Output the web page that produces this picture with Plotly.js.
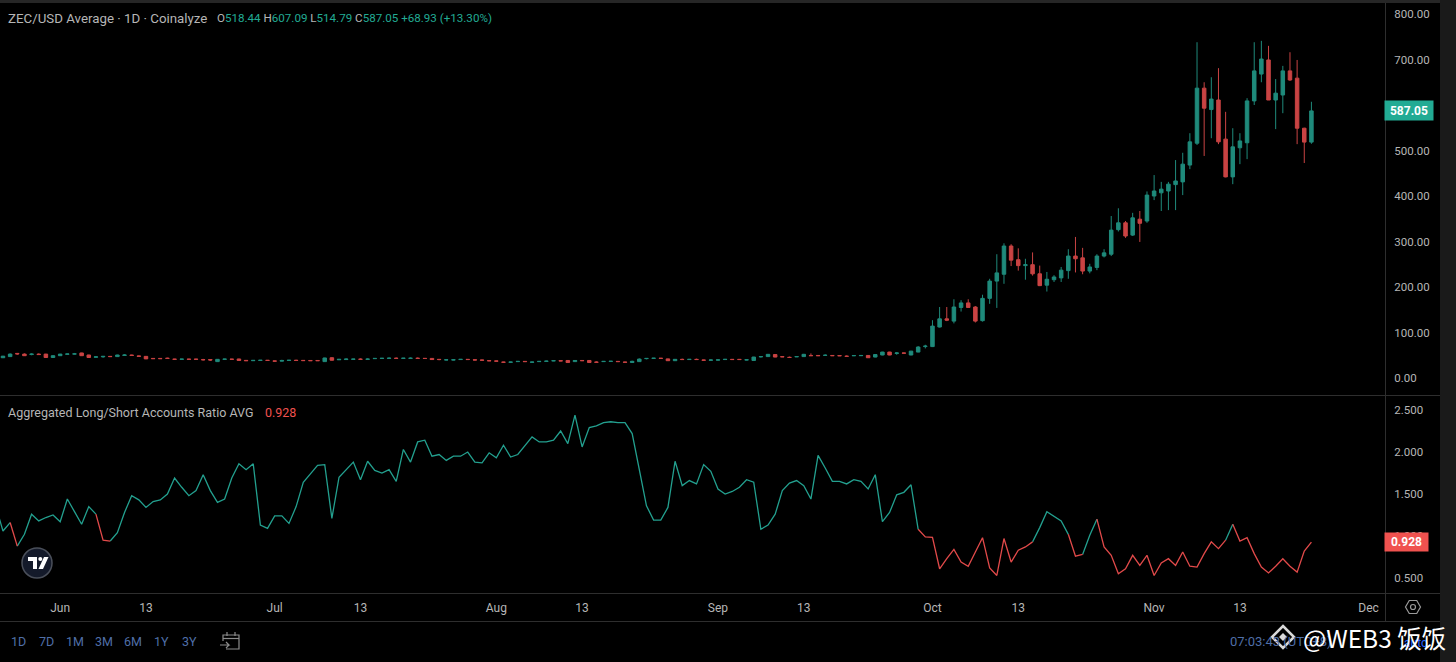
<!DOCTYPE html>
<html><head><meta charset="utf-8">
<script src="https://cdn.plot.ly/plotly-3.0.1.min.js"></script>
<style>html,body{margin:0;padding:0;background:#000;overflow:hidden}#chart{width:1456px;height:662px}</style>
</head><body><div id="chart"></div>
<script>
// ---------- DATA ----------
const firstCandleDate = '2025-05-24';   // daily candles, consecutive days
const firstRatioDate  = '2025-05-23';   // ratio series starts one day earlier (enters from left edge)

const opens = [
 44.5,47,54,52.5,51.5,52.5,52.5,45,49,52.3,
 52.5,55,50.5,45.5,46.5,47.5,47,49.5,50.5,48.5,
 47.5,43,43,43.5,41.5,41,41.5,41.5,40.5,40.5,
 36,41,41.5,41.8,38.7,38,38.5,39,37.5,37,
 38.5,39,38.7,38.5,38.5,36,44.5,40,40.5,41,
 41.5,41,42.5,42.8,43,43.5,43,43,43.5,43.2,
 43,41,39.5,39.5,40.5,41,40,39.5,38.3,37.5,
 35,34.5,36,36.5,34.5,36,36.5,37.5,38,38.5,
 36,38.5,38.5,35,36,36.3,36.5,35,34,36,
 42.5,43,43.5,42,38,41,40.5,41,39.5,39,
 39.3,40.5,41,41,39.5,38.5,46.5,47,51.5,47,
 45.5,46.5,47,49.5,49.5,49.5,49.5,49.3,48,48.8,
 49,49.5,46,50.5,57,54,55,50.5,57,69,
 69,112,130,125,155,165,156,126,175,213,
 228,290,260,247,249,229,204,216,220,236,
 268,264,235,243,268,272,326,341,314,349,
 345,400,407,411,425,431,468,516,637,590,
 611,525,442,506,517,609,668,699,611,622,
 675,659,549,518.44];
const highs = [
 48.5,54,55,54,54,54,53,50,53,53.2,
 55,55.5,51,48,48,48,51,52,51,49.5,
 48,43.5,43.5,44.5,42,42,42,42,42,41,
 41.5,42,42,42.3,39.2,39.2,39.5,39.5,38,40,
 39.5,40,39.2,39,39,44.5,45.5,41.5,43,42,
 43,43,43.5,43.8,45,45,44,45,45,43.7,
 43.5,41.5,40.5,41,41.5,41.5,41,40,39.5,38,
 35.5,35.5,37,37,35.5,37,38,38.5,38.5,39,
 39,39,39,36.5,37,37.3,37,35.5,38,43,
 43.5,44,44,42.5,41.5,42.5,41.5,42.5,40,41,
 40.3,41.5,41.5,41.5,41.5,46.5,47.5,52.5,52,47.5,
 47,47.5,53,54,50,52,50,49.8,49.5,49.8,
 50,50,52,57.5,57.5,57,55.5,59.5,70,73,
 127,156,156,173,171,173,158,183,218,272,
 296,294,285,262,276,247,233,226,244,283,
 310,286,251,272,283,356,373,345,363,367,
 410,446,431,431,479,495,538,738,650,661,
 681,585,549,538,615,738,741,730,657,686,
 716,699,550,607.09];
const lows = [
 44,46.5,51,48.5,50,51,44.5,44.5,48.5,51.8,
 52,48.5,44.5,45,44.5,46.5,46.5,49,49,47,
 41.5,42,42,42.5,40.5,40.5,40.5,40.5,38.5,37.5,
 35.5,40.5,40.5,38,37.5,37.5,38,38,36.5,36.5,
 38,38,37.7,37.5,37.5,35.5,38.5,39.5,40,40.5,
 40.5,40.5,42,42.3,42.5,42.5,42.5,42.5,42.5,42.3,
 40,39,39,39,40,40,39,38.5,37.5,36.5,
 34,34,35.5,35.5,34,35.5,36,37,37,33.5,
 35.5,37.5,33.5,34,35.5,35.8,35.5,34,33.5,35.5,
 41,42.5,42.5,37.5,37.5,40,40,40,38.5,38.5,
 38.8,40,40,40,39,38,45,46.5,45.5,46,
 44.5,46,46.5,48.5,48.5,49,48.5,48.3,47,48.3,
 48.5,44,45.5,50,50,51,54,50,56.5,65,
 68,111,125,120,146,154,122,124,163,154,
 207,246,236,216,225,202,190,211,211,218,
 232,228,230,237,265,268,322,308,312,299,
 341,391,367,369,369,402,459,512,488,527,
 514,441,426,470,481,600,650,611,547,582,
 653,514,472.5,514.79];
const closes = [
 48,52.5,53,49,52.5,51.5,45,49,52.5,52.7,
 53,49,45,46.5,47.5,47,50.5,50.5,49.5,47.5,
 42,42.5,42.5,43,41,41.5,41,41,40,39.5,
 41,41.5,41,38.5,38,38.7,39,38.5,37,38.5,
 39,38.5,38.2,38,38,44,39,41,41.5,41.5,
 41,41.5,43,43.3,43.5,43,43.5,43.5,43,42.8,
 40.5,40.5,40,40,41,40.5,39.5,39,37.7,37,
 34.5,35,36.5,36,35,36.5,37,38,37.5,34,
 38.5,38,34,34.5,36.5,36.8,36,34.5,36.6,41.5,
 43,43.5,43,38,41,40.5,41,40.5,39,39.5,
 39.8,41,40.5,40.5,40,46,47,52,46,46.5,
 45,47,52,49,49,50,49,48.8,47.5,49.3,
 49.5,44.5,51.5,57,50.5,55,54.5,59,68,70,
 114,130,127,156,165,155,125,175,213,231,
 290,259,247,249,229,203,217,222,237,268,
 262,235,244,268,275,325,341,312,352,340,
 402,411,415,426,433,470,519,637,593,613,
 519,442,508,521,609,675,701,611,626,675,
 655,549,518.44,587.05];

const ratios = [1.35,
 1.06,1.16,0.88,1.02,1.26,1.18,1.22,1.25,1.17,1.44,
 1.29,1.14,1.35,1.26,0.95,0.94,1.04,1.28,1.48,1.43,
 1.34,1.41,1.43,1.50,1.69,1.58,1.48,1.54,1.73,1.54,
 1.40,1.44,1.69,1.86,1.79,1.86,1.13,1.09,1.24,1.24,
 1.15,1.35,1.64,1.74,1.84,1.85,1.21,1.70,1.79,1.88,
 1.67,1.89,1.78,1.75,1.79,1.65,2.03,1.88,2.12,2.14,
 1.95,1.97,1.90,1.95,1.95,2.00,1.88,1.87,1.99,1.93,
 2.08,1.94,1.97,2.07,2.18,2.12,2.12,2.14,2.25,2.10,
 2.44,2.06,2.29,2.31,2.35,2.36,2.35,2.35,2.22,1.79,
 1.36,1.19,1.19,1.34,1.89,1.60,1.66,1.62,1.85,1.77,
 1.56,1.50,1.53,1.58,1.67,1.64,1.08,1.13,1.26,1.54,
 1.63,1.66,1.60,1.44,1.96,1.81,1.65,1.65,1.62,1.67,
 1.65,1.56,1.73,1.17,1.28,1.49,1.52,1.61,1.08,0.99,
 0.985,0.61,0.73,0.84,0.69,0.64,0.81,0.98,0.62,0.53,
 0.97,0.69,0.83,0.87,0.93,1.10,1.29,1.24,1.18,1.02,
 0.76,0.78,1.01,1.20,0.87,0.77,0.55,0.61,0.77,0.65,
 0.77,0.53,0.68,0.73,0.65,0.81,0.64,0.63,0.79,0.93,
 0.85,0.95,1.14,0.94,0.98,0.79,0.63,0.56,0.64,0.73,
 0.64,0.57,0.82,0.928];

const tickDates  = ['2025-06-01','2025-06-13','2025-07-01','2025-07-13','2025-08-01','2025-08-13','2025-09-01','2025-09-13','2025-10-01','2025-10-13','2025-11-01','2025-11-13','2025-12-01'];
const tickLabels = ['Jun','13','Jul','13','Aug','13','Sep','13','Oct','13','Nov','13','Dec'];
const priceTicks = [0,100,200,300,400,500,600,700,800];
const ratioTicks = [0.5,1.0,1.5,2.0,2.5];
const headerTitle = 'ZEC/USD Average · 1D · Coinalyze';
const ohlcLast = {o:'518.44', h:'607.09', l:'514.79', c:'587.05', chg:'+68.93 (+13.30%)'};
const indicatorTitle = 'Aggregated Long/Short Accounts Ratio AVG';
const lastRatioText = '0.928';
const lastPriceText = '587.05';
const intervalButtons = ['1D','7D','1M','3M','6M','1Y','3Y'];
const clockText = '07:03:43 (UTC+8)';
const watermarkText = '@WEB3 饭饭';

// ---------- helpers ----------
function dayList(start, n){
  const [y,m,d] = start.split('-').map(Number);
  const t0 = Date.UTC(y,m-1,d), out=[];
  for(let i=0;i<n;i++){ out.push(new Date(t0+i*86400000).toISOString().slice(0,10)); }
  return out;
}
const candleDates = dayList(firstCandleDate, closes.length);
const ratioDates  = dayList(firstRatioDate, ratios.length);

const UP='#1f8a7b', DN='#c94343', LTEAL='#23a08f', LRED='#e24a4a';
const TXT='#b6b6b6', BLUE='#4f6fa8';
const FONT='Roboto, "Open Sans", sans-serif';

const W=1456,H=662,ML=0,MR=71,MT=3,MB=69;
const PW=W-ML-MR, PH=H-MT-MB;
const fx = x => (x-ML)/PW;
const fy = y => (H-MB-y)/PH;
function path(pts, close){ return pts.map((p,i)=>(i?'L':'M')+fx(p[0]).toFixed(5)+','+fy(p[1]).toFixed(5)).join(' ')+(close?' Z':''); }

// ratio line split into teal / red segments (segment colour from its end value)
function segTrace(isRed){
  const xs=[], ys=[];
  let open=false;
  for(let i=1;i<ratios.length;i++){
    const red = ratios[i] < 1;
    if(red===isRed){
      if(!open){ xs.push(ratioDates[i-1]); ys.push(ratios[i-1]); open=true; }
      xs.push(ratioDates[i]); ys.push(ratios[i]);
    } else if(open){ xs.push(null); ys.push(null); open=false; }
  }
  return {type:'scatter', mode:'lines', x:xs, y:ys, xaxis:'x', yaxis:'y2', connectgaps:false,
          line:{color:isRed?LRED:LTEAL, width:1.3}, hoverinfo:'skip', showlegend:false};
}

const traces = [
  {type:'candlestick', x:candleDates, open:opens, high:highs, low:lows, close:closes,
   xaxis:'x', yaxis:'y', whiskerwidth:0,
   increasing:{line:{color:UP,width:1}, fillcolor:UP},
   decreasing:{line:{color:DN,width:1}, fillcolor:DN},
   hoverinfo:'skip', showlegend:false},
  segTrace(false), segTrace(true)
];

const shapes = [
  {type:'rect',xref:'paper',yref:'paper',x0:fx(0),x1:fx(1456),y0:fy(0),y1:fy(3),fillcolor:'#262626',line:{width:0}},
  {type:'rect',xref:'paper',yref:'paper',x0:fx(1440),x1:fx(1456),y0:fy(0),y1:fy(662),fillcolor:'#1a1a1a',line:{width:0}},
  {type:'line',xref:'paper',yref:'paper',x0:fx(0),x1:fx(1440),y0:fy(395.5),y1:fy(395.5),line:{color:'#2e2e2e',width:1}},
  {type:'line',xref:'paper',yref:'paper',x0:fx(0),x1:fx(1440),y0:fy(593.5),y1:fy(593.5),line:{color:'#2e2e2e',width:1}},
  {type:'line',xref:'paper',yref:'paper',x0:fx(0),x1:fx(1440),y0:fy(621.5),y1:fy(621.5),line:{color:'#2e2e2e',width:1}},
  {type:'line',xref:'paper',yref:'paper',x0:fx(1385.5),x1:fx(1385.5),y0:fy(3),y1:fy(621),line:{color:'#2e2e2e',width:1}},
  // settings gear
  {type:'path',xref:'paper',yref:'paper',path:path([[1420.5,607],[1416.75,600.5],[1409.25,600.5],[1405.5,607],[1409.25,613.5],[1416.75,613.5]],true),line:{color:'#9a9a9a',width:1.2}},
  {type:'circle',xref:'paper',yref:'paper',x0:fx(1410.5),x1:fx(1415.5),y0:fy(604.5),y1:fy(609.5),line:{color:'#9a9a9a',width:1.2}},
  // TradingView logo
  {type:'circle',xref:'paper',yref:'paper',x0:fx(22),x1:fx(52),y0:fy(548),y1:fy(578),fillcolor:'#141a2a',line:{color:'#4a4f5a',width:1.5}},
  {type:'path',xref:'paper',yref:'paper',path:path([[28,557],[37,557],[37,569],[33,569],[33,561],[28,561]],true),fillcolor:'#ffffff',line:{width:0}},
  {type:'circle',xref:'paper',yref:'paper',x0:fx(38.3),x1:fx(42.3),y0:fy(557),y1:fy(561),fillcolor:'#ffffff',line:{width:0}},
  {type:'path',xref:'paper',yref:'paper',path:path([[44,557],[48.5,557],[43,569],[38.5,569]],true),fillcolor:'#ffffff',line:{width:0}},
  // calendar icon
  {type:'path',xref:'paper',yref:'paper',path:path([[223,641],[223,635],[239,635],[239,649],[226,649]],false),line:{color:'#8c8c8c',width:1.2}},
  {type:'line',xref:'paper',yref:'paper',x0:fx(223),x1:fx(239),y0:fy(638.5),y1:fy(638.5),line:{color:'#8c8c8c',width:1.2}},
  {type:'line',xref:'paper',yref:'paper',x0:fx(227),x1:fx(227),y0:fy(632),y1:fy(636),line:{color:'#8c8c8c',width:1.2}},
  {type:'line',xref:'paper',yref:'paper',x0:fx(235),x1:fx(235),y0:fy(632),y1:fy(636),line:{color:'#8c8c8c',width:1.2}},
  {type:'path',xref:'paper',yref:'paper',path:path([[220,645],[229,645],[226,642],[229,645],[226,648]],false),line:{color:'#8c8c8c',width:1.2}},
  // exchange logo in watermark
  {type:'path',xref:'paper',yref:'paper',path:path([[1283,626],[1294,637],[1283,648],[1272,637]],true),line:{color:'rgba(255,255,255,0.85)',width:2.5}},
  {type:'path',xref:'paper',yref:'paper',path:path([[1283,633],[1287,637],[1283,641],[1279,637]],true),fillcolor:'rgba(255,255,255,0.85)',line:{width:0}}
];

const ann = [];
function txt(x,y,text,opts){ ann.push(Object.assign({xref:'paper',yref:'paper',x:fx(x),y:fy(y),text:text,showarrow:false,xanchor:'left',yanchor:'middle',font:{family:FONT,size:13,color:TXT}},opts||{})); }
txt(6,18,headerTitle,{font:{family:FONT,size:13.3,color:TXT}});
const g = v => '<span style="color:#22ab94">'+v+'</span>';
txt(215,18,'O'+g(ohlcLast.o)+' H'+g(ohlcLast.h)+' L'+g(ohlcLast.l)+' C'+g(ohlcLast.c)+' '+g(ohlcLast.chg),{font:{family:FONT,size:11.6,color:TXT}});
txt(6,412,indicatorTitle,{font:{family:FONT,size:12.5,color:TXT}});
txt(263,412,lastRatioText,{font:{family:FONT,size:12.5,color:'#f0524f'}});
// last value boxes (they cover the 600.00 / 1.000 tick labels, as in the original)
txt(1409,110.5,'<b>'+lastPriceText+'</b>',{xanchor:'center',bgcolor:'#22ab94',width:44,height:15,borderpad:2,font:{family:FONT,size:12,color:'#ffffff'}});
txt(1406.5,542,'<b>'+lastRatioText+'</b>',{xanchor:'center',bgcolor:'#f0524f',width:39,height:14,borderpad:2,font:{family:FONT,size:12,color:'#ffffff'}});
// toolbar
const btnX=[18,46,75,104,133,161,189];
intervalButtons.forEach((b,i)=>txt(btnX[i],641,b,{xanchor:'center',font:{family:FONT,size:12.5,color:BLUE}}));
txt(1228,641,clockText,{font:{family:FONT,size:13,color:BLUE}});
txt(1402,643,'auto',{font:{family:FONT,size:12,color:'#2962ff'}});
txt(1301,637,watermarkText,{font:{family:'"Noto Sans CJK SC", "Noto Sans", sans-serif',size:24.5,color:'#ffffff'}});

const axFont = {family:FONT,size:11.5,color:TXT};
const layout = {
  width:W, height:H, margin:{l:ML,r:MR,t:MT,b:MB},
  paper_bgcolor:'#000000', plot_bgcolor:'#000000',
  showlegend:false, hovermode:false, dragmode:false,
  xaxis:{type:'date', domain:[0,1], anchor:'y2', range:['2025-05-23 14:00','2025-12-03 07:00'],
         tickvals:tickDates, ticktext:tickLabels, tickfont:{family:FONT,size:12,color:TXT},
         showgrid:false, zeroline:false, showline:false, ticks:'outside', ticklen:4, tickcolor:'rgba(0,0,0,0)',
         rangeslider:{visible:false}},
  yaxis:{domain:[(593-395)/590,1], side:'right', anchor:'x', range:[-37.4,824.2], tickvals:priceTicks, tickformat:'.2f',
         tickfont:axFont, showgrid:false, zeroline:false, showline:false, ticks:'outside', ticklen:6, tickcolor:'rgba(0,0,0,0)'},
  yaxis2:{domain:[0,(593-396)/590], side:'right', anchor:'x', range:[0.3214,2.6667], tickvals:ratioTicks, tickformat:'.3f',
         tickfont:axFont, showgrid:false, zeroline:false, showline:false, ticks:'outside', ticklen:6, tickcolor:'rgba(0,0,0,0)'},
  shapes:shapes, annotations:ann
};
Plotly.newPlot('chart', traces, layout, {displayModeBar:false, staticPlot:true});
</script>
</body></html>
